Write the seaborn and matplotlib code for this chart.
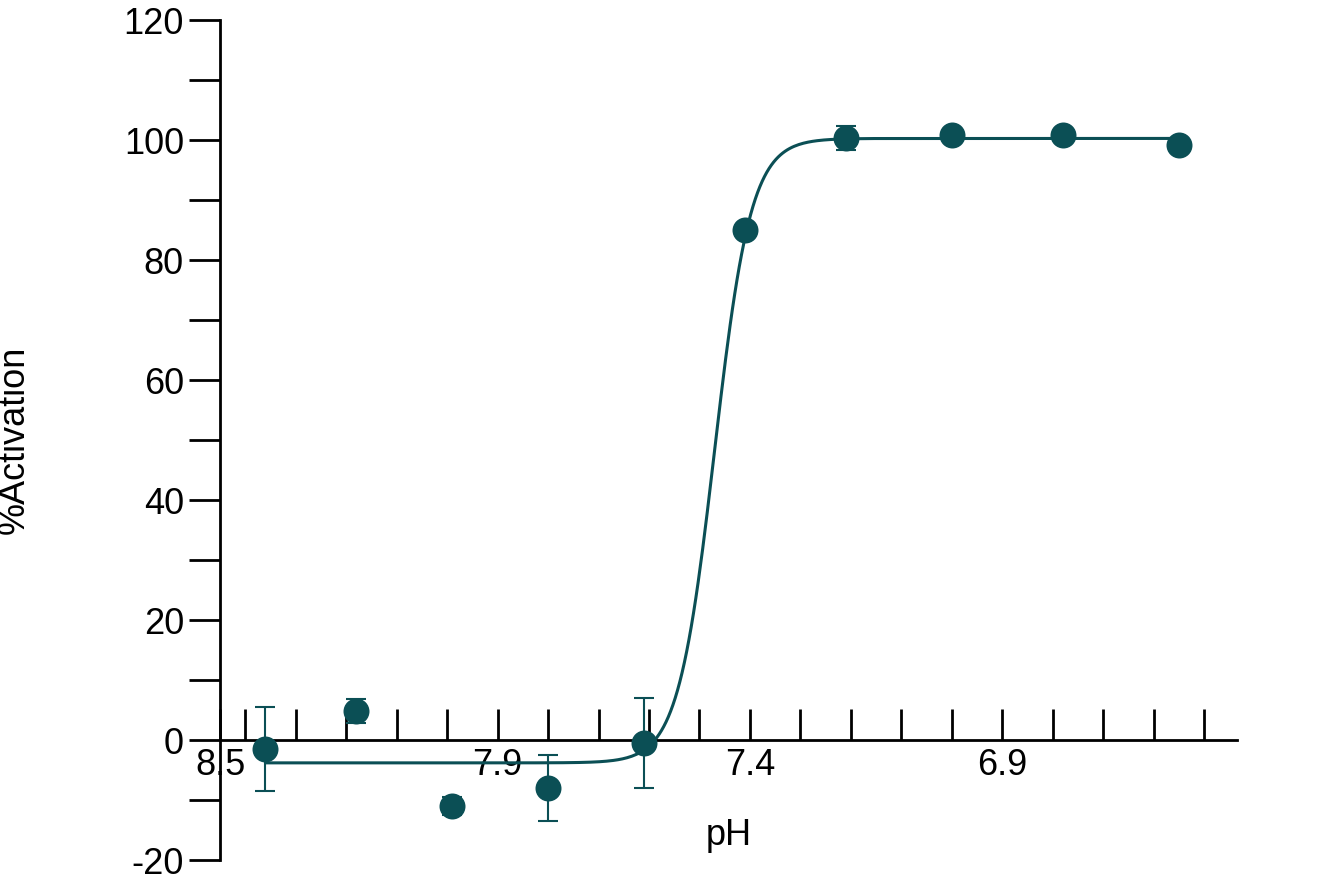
import numpy as np
import matplotlib
matplotlib.use("Agg")
import matplotlib.pyplot as plt
import seaborn as sns
import pandas as pd

ph = [8.36, 8.18, 7.99, 7.80, 7.61, 7.41, 7.21, 7.00, 6.78, 6.55]
act = [-1.5, 4.8, -11.0, -8.0, -0.5, 85.0, 100.3, 100.8, 100.8, 99.2]
err = [7.0, 2.0, 1.5, 5.5, 7.5, 0.5, 2.0, 1.0, 1.0, 0.5]
bottom, top, pka, hill = -3.8, 100.3, 7.47, 12.0
xticks = [8.45, 7.9, 7.4, 6.9]
xticklabels = ["8.5", "7.9", "7.4", "6.9"]

color = "#0b4f55"
sns.set_style("white")
plt.rcParams['font.family'] = ['Liberation Sans', 'DejaVu Sans']
plt.rcParams['axes.unicode_minus'] = False
plt.rcParams['text.color'] = 'black'
plt.rcParams['xtick.color'] = 'black'
plt.rcParams['ytick.color'] = 'black'
plt.rcParams['axes.labelcolor'] = 'black'

fig = plt.figure(figsize=(13.2, 8.81), dpi=100)
ax = fig.add_axes([0.1667, 0.0238, 0.937 - 0.1667, 0.977 - 0.0238])

df = pd.DataFrame({"pH": ph, "act": act})
xs = np.linspace(max(ph), min(ph), 400)
ys = bottom + (top - bottom) / (1 + 10 ** (hill * (xs - pka)))
sns.lineplot(x=xs, y=ys, ax=ax, color=color, lw=2.2)
ax.errorbar(ph, act, yerr=err, fmt="none", ecolor=color, capsize=7, elinewidth=1.5, capthick=1.5)
sns.scatterplot(data=df, x="pH", y="act", ax=ax, color=color, s=300, edgecolor=color, zorder=5)

ax.set_xlim(8.45, 6.435)
ax.set_ylim(-20, 120)
for s in ["top", "right"]:
    ax.spines[s].set_visible(False)
ax.spines["bottom"].set_position(("data", 0))
for s in ["bottom", "left"]:
    ax.spines[s].set_linewidth(2)
    ax.spines[s].set_color("black")

ax.set_yticks(np.arange(-20, 121, 20))
ax.set_yticks(np.arange(-10, 121, 20), minor=True)
ax.set_xticks(xticks)
ax.set_xticklabels(xticklabels)
ax.set_xticks(np.round(np.arange(6.5, 8.41, 0.1), 2), minor=True)
ax.tick_params(axis="y", which="both", direction="out", length=22, width=2, left=True, labelsize=26, pad=4)
ax.tick_params(axis="x", which="both", direction="in", length=22, width=2, bottom=True, labelsize=26, pad=6)
ax.set_xlabel("pH", fontsize=26)
ax.xaxis.set_label_coords(0.5, 0.05)
ax.set_ylabel("%Activation", fontsize=26)
ax.yaxis.set_label_coords(-0.185, 0.5)
fig.savefig("out.png", dpi=100)
